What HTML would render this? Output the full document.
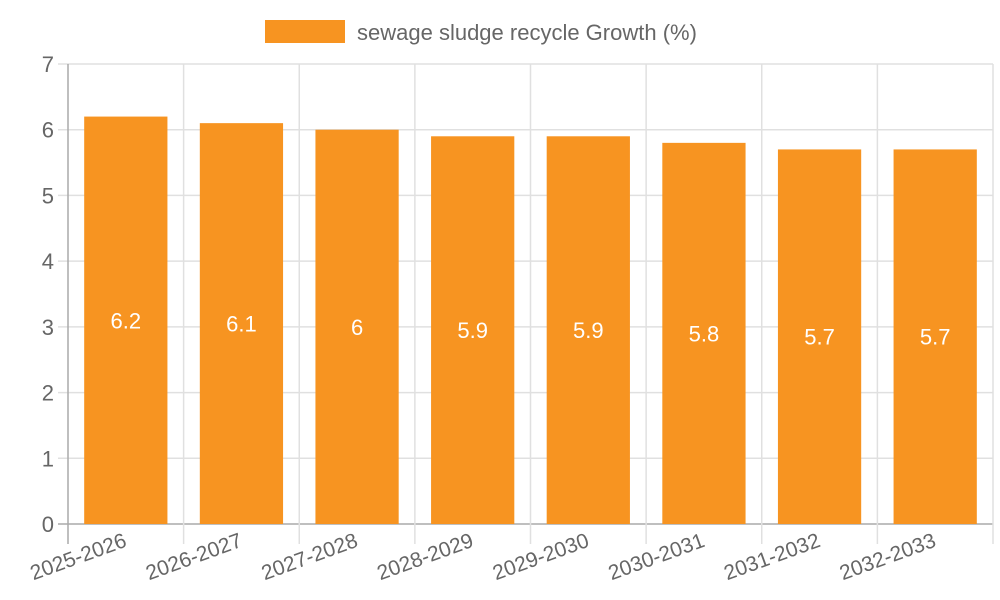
<!DOCTYPE html>
<html><head><meta charset="utf-8"><style>
html,body{margin:0;padding:0;background:#fff;width:1000px;height:600px;overflow:hidden}
svg text{font-family:"Liberation Sans",sans-serif}
</style></head><body>
<svg id="chart" width="1000" height="600" xmlns="http://www.w3.org/2000/svg">
<g id="legend">
<rect x="265" y="20" width="80" height="23" fill="#f79421"/>
<text x="357" y="40" font-size="22" fill="#666">sewage sludge recycle Growth (%)</text>
</g>
<g id="grid"></g><g id="bars"></g><g id="labels"></g>
</svg>
<script>
const categories=["2025-2026","2026-2027","2027-2028","2028-2029","2029-2030","2030-2031","2031-2032","2032-2033"];
const values=[6.2,6.1,6,5.9,5.9,5.8,5.7,5.7];
const yTicks=[0,1,2,3,4,5,6,7];
const NS="http://www.w3.org/2000/svg";
const L=68,R=993,T=64,B=524,yMax=7;
const y=v=>B-(v/yMax)*(B-T);
const bw=(R-L)/categories.length;
const x=i=>L+i*bw;
function mk(tag,attrs,parent,txt){const e=document.createElementNS(NS,tag);for(const k in attrs)e.setAttribute(k,attrs[k]);if(txt!==undefined)e.textContent=txt;parent.appendChild(e);return e;}
const grid=document.getElementById('grid'),bars=document.getElementById('bars'),labels=document.getElementById('labels');
yTicks.forEach(t=>{
  const g=mk('line',{x1:L-10,x2:R,y1:y(t),y2:y(t),stroke:t===0?'#aaa':'#e0e0e0','stroke-width':1.5},grid);
  
  
  const tx=mk('text',{x:L-14,y:y(t)+8,'font-size':22,fill:'#666','text-anchor':'end'},grid,String(t));
  
  
});
for(let i=0;i<=categories.length;i++){
  const g=mk('line',{x1:x(i),x2:x(i),y1:T,y2:B+20,stroke:i===0?'#aaa':'#e0e0e0','stroke-width':1.5},grid);
  
  
}
categories.forEach((c,i)=>{
  const cx=x(i)+bw/2,w=bw*0.72;
  const r=mk('rect',{x:cx-w/2,y:y(values[i]),width:w,height:B-y(values[i]),fill:'#f79421'},bars);
  
  
  const vt=mk('text',{x:cx,y:(y(values[i])+B)/2+8,'font-size':22,fill:'#fff','text-anchor':'middle'},labels,String(values[i]));
  
  
  const xt=mk('text',{x:0,y:0,'font-size':21,fill:'#666','text-anchor':'end',transform:`translate(${cx+2},${B+22}) rotate(-20)`},labels,c);
  
  
});
</script>
</body></html>
